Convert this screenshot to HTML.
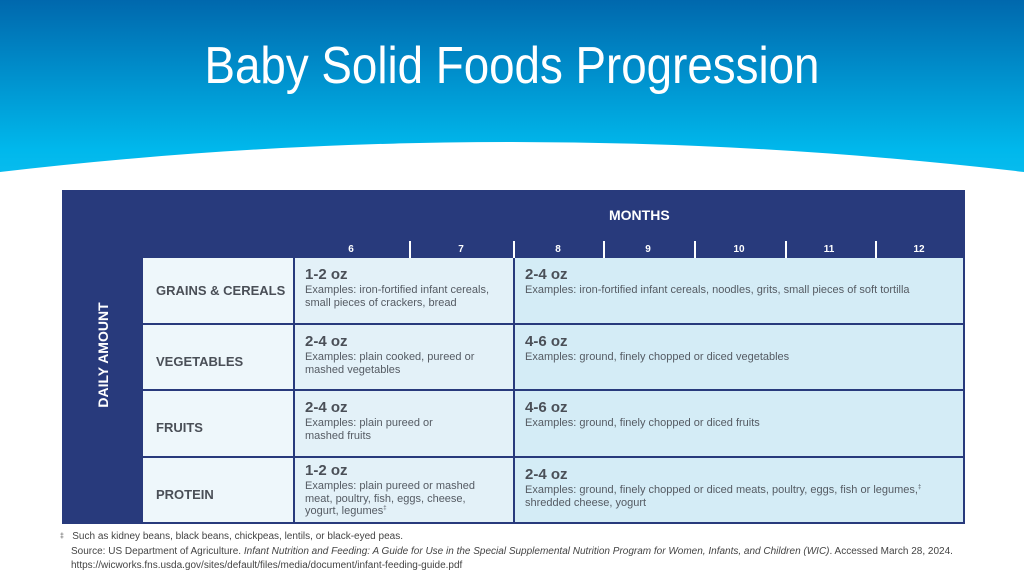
<!DOCTYPE html>
<html><head><style>
*{margin:0;padding:0;box-sizing:border-box}
body{width:1024px;height:577px;overflow:hidden;background:#fff;font-family:"Liberation Sans",sans-serif;position:relative}
.a{position:absolute}
.lbl{position:absolute;left:143px;width:150px;font-weight:bold;font-size:13px;color:#4a4f57;padding-left:13px;padding-top:8px;display:flex;align-items:center;background:#eef7fb;border-bottom:2px solid #283a7c}
.c{position:absolute;color:#555b63;font-size:11px;line-height:12.5px;border-bottom:2px solid #283a7c;padding:8px 8px 0 10px}
.c b{display:block;font-size:15px;color:#4a4f57;line-height:17px;margin-bottom:1px}
.c sup{font-size:6px;line-height:0}
.c1{left:293px;width:220px;background:#e3f1f8;border-left:2px solid #283a7c}
.c2{left:513px;width:452px;background:#d4ecf6;border-left:2px solid #283a7c;border-right:2px solid #283a7c}
.m{position:absolute;top:244px;color:#fff;font-size:10px;font-weight:bold;transform:translateX(-50%)}
.t{position:absolute;top:241px;width:1.5px;height:17px;background:#fff}
</style></head><body>
<svg class="a" style="left:0;top:0" width="1024" height="200">
<defs><linearGradient id="g" x1="0" y1="0" x2="0" y2="1"><stop offset="0" stop-color="#0068ad"/><stop offset="0.75" stop-color="#00b8ec"/><stop offset="1" stop-color="#10c0f0"/></linearGradient></defs>
<rect width="1024" height="200" fill="url(#g)"/>
<path d="M0 172 Q512 112 1024 172 L1024 200 L0 200 Z" fill="#fff"/>
<text x="512" y="83" text-anchor="middle" fill="#fff" font-family="Liberation Sans" font-size="52" textLength="615" lengthAdjust="spacingAndGlyphs">Baby Solid Foods Progression</text>
</svg>
<div class="a" style="left:62px;top:190px;width:903px;height:68px;background:#283a7c"></div>
<div class="a" style="left:62px;top:190px;width:81px;height:334px;background:#283a7c"></div>
<div class="a" style="left:609px;top:207px;color:#fff;font-weight:bold;font-size:14px">MONTHS</div>
<div class="a" style="left:103px;top:355px;color:#fff;font-weight:bold;font-size:14px;transform:translate(-50%,-50%) rotate(-90deg);white-space:nowrap">DAILY AMOUNT</div>
<div class="m" style="left:351px">6</div><div class="m" style="left:461px">7</div><div class="m" style="left:558px">8</div><div class="m" style="left:648px">9</div><div class="m" style="left:739px">10</div><div class="m" style="left:829px">11</div><div class="m" style="left:919px">12</div>
<div class="t" style="left:409px"></div><div class="t" style="left:513px"></div><div class="t" style="left:603px"></div><div class="t" style="left:694px"></div><div class="t" style="left:785px"></div><div class="t" style="left:875px"></div>

<div class="lbl" style="top:258px;height:67px;padding-top:0">GRAINS &amp; CEREALS</div>
<div class="c c1" style="top:258px;height:67px"><b>1-2 oz</b>Examples: iron-fortified infant cereals,<br>small pieces of crackers, bread</div>
<div class="c c2" style="top:258px;height:67px"><b>2-4 oz</b>Examples: iron-fortified infant cereals, noodles, grits, small pieces of soft tortilla</div>

<div class="lbl" style="top:325px;height:66px">VEGETABLES</div>
<div class="c c1" style="top:325px;height:66px"><b>2-4 oz</b>Examples: plain cooked, pureed or<br>mashed vegetables</div>
<div class="c c2" style="top:325px;height:66px"><b>4-6 oz</b>Examples: ground, finely chopped or diced vegetables</div>

<div class="lbl" style="top:391px;height:67px">FRUITS</div>
<div class="c c1" style="top:391px;height:67px"><b>2-4 oz</b>Examples: plain pureed or<br>mashed fruits</div>
<div class="c c2" style="top:391px;height:67px"><b>4-6 oz</b>Examples: ground, finely chopped or diced fruits</div>

<div class="lbl" style="top:458px;height:66px">PROTEIN</div>
<div class="c c1" style="top:458px;height:66px;padding-top:4px"><b>1-2 oz</b>Examples: plain pureed or mashed<br>meat, poultry, fish, eggs, cheese,<br>yogurt, legumes<sup>‡</sup></div>
<div class="c c2" style="top:458px;height:66px"><b>2-4 oz</b>Examples: ground, finely chopped or diced meats, poultry, eggs, fish or legumes,<sup>‡</sup><br>shredded cheese, yogurt</div>

<div class="a" style="left:60px;top:530px;font-size:10px;line-height:14.5px;color:#444">
<div><span style="font-size:7px;vertical-align:top">‡</span>&nbsp;&nbsp; Such as kidney beans, black beans, chickpeas, lentils, or black-eyed peas.</div>
<div style="padding-left:11px">Source: US Department of Agriculture. <i>Infant Nutrition and Feeding: A Guide for Use in the Special Supplemental Nutrition Program for Women, Infants, and Children (WIC)</i>. Accessed March 28, 2024.</div>
<div style="padding-left:11px">https://wicworks.fns.usda.gov/sites/default/files/media/document/infant-feeding-guide.pdf</div>
</div>
</body></html>
